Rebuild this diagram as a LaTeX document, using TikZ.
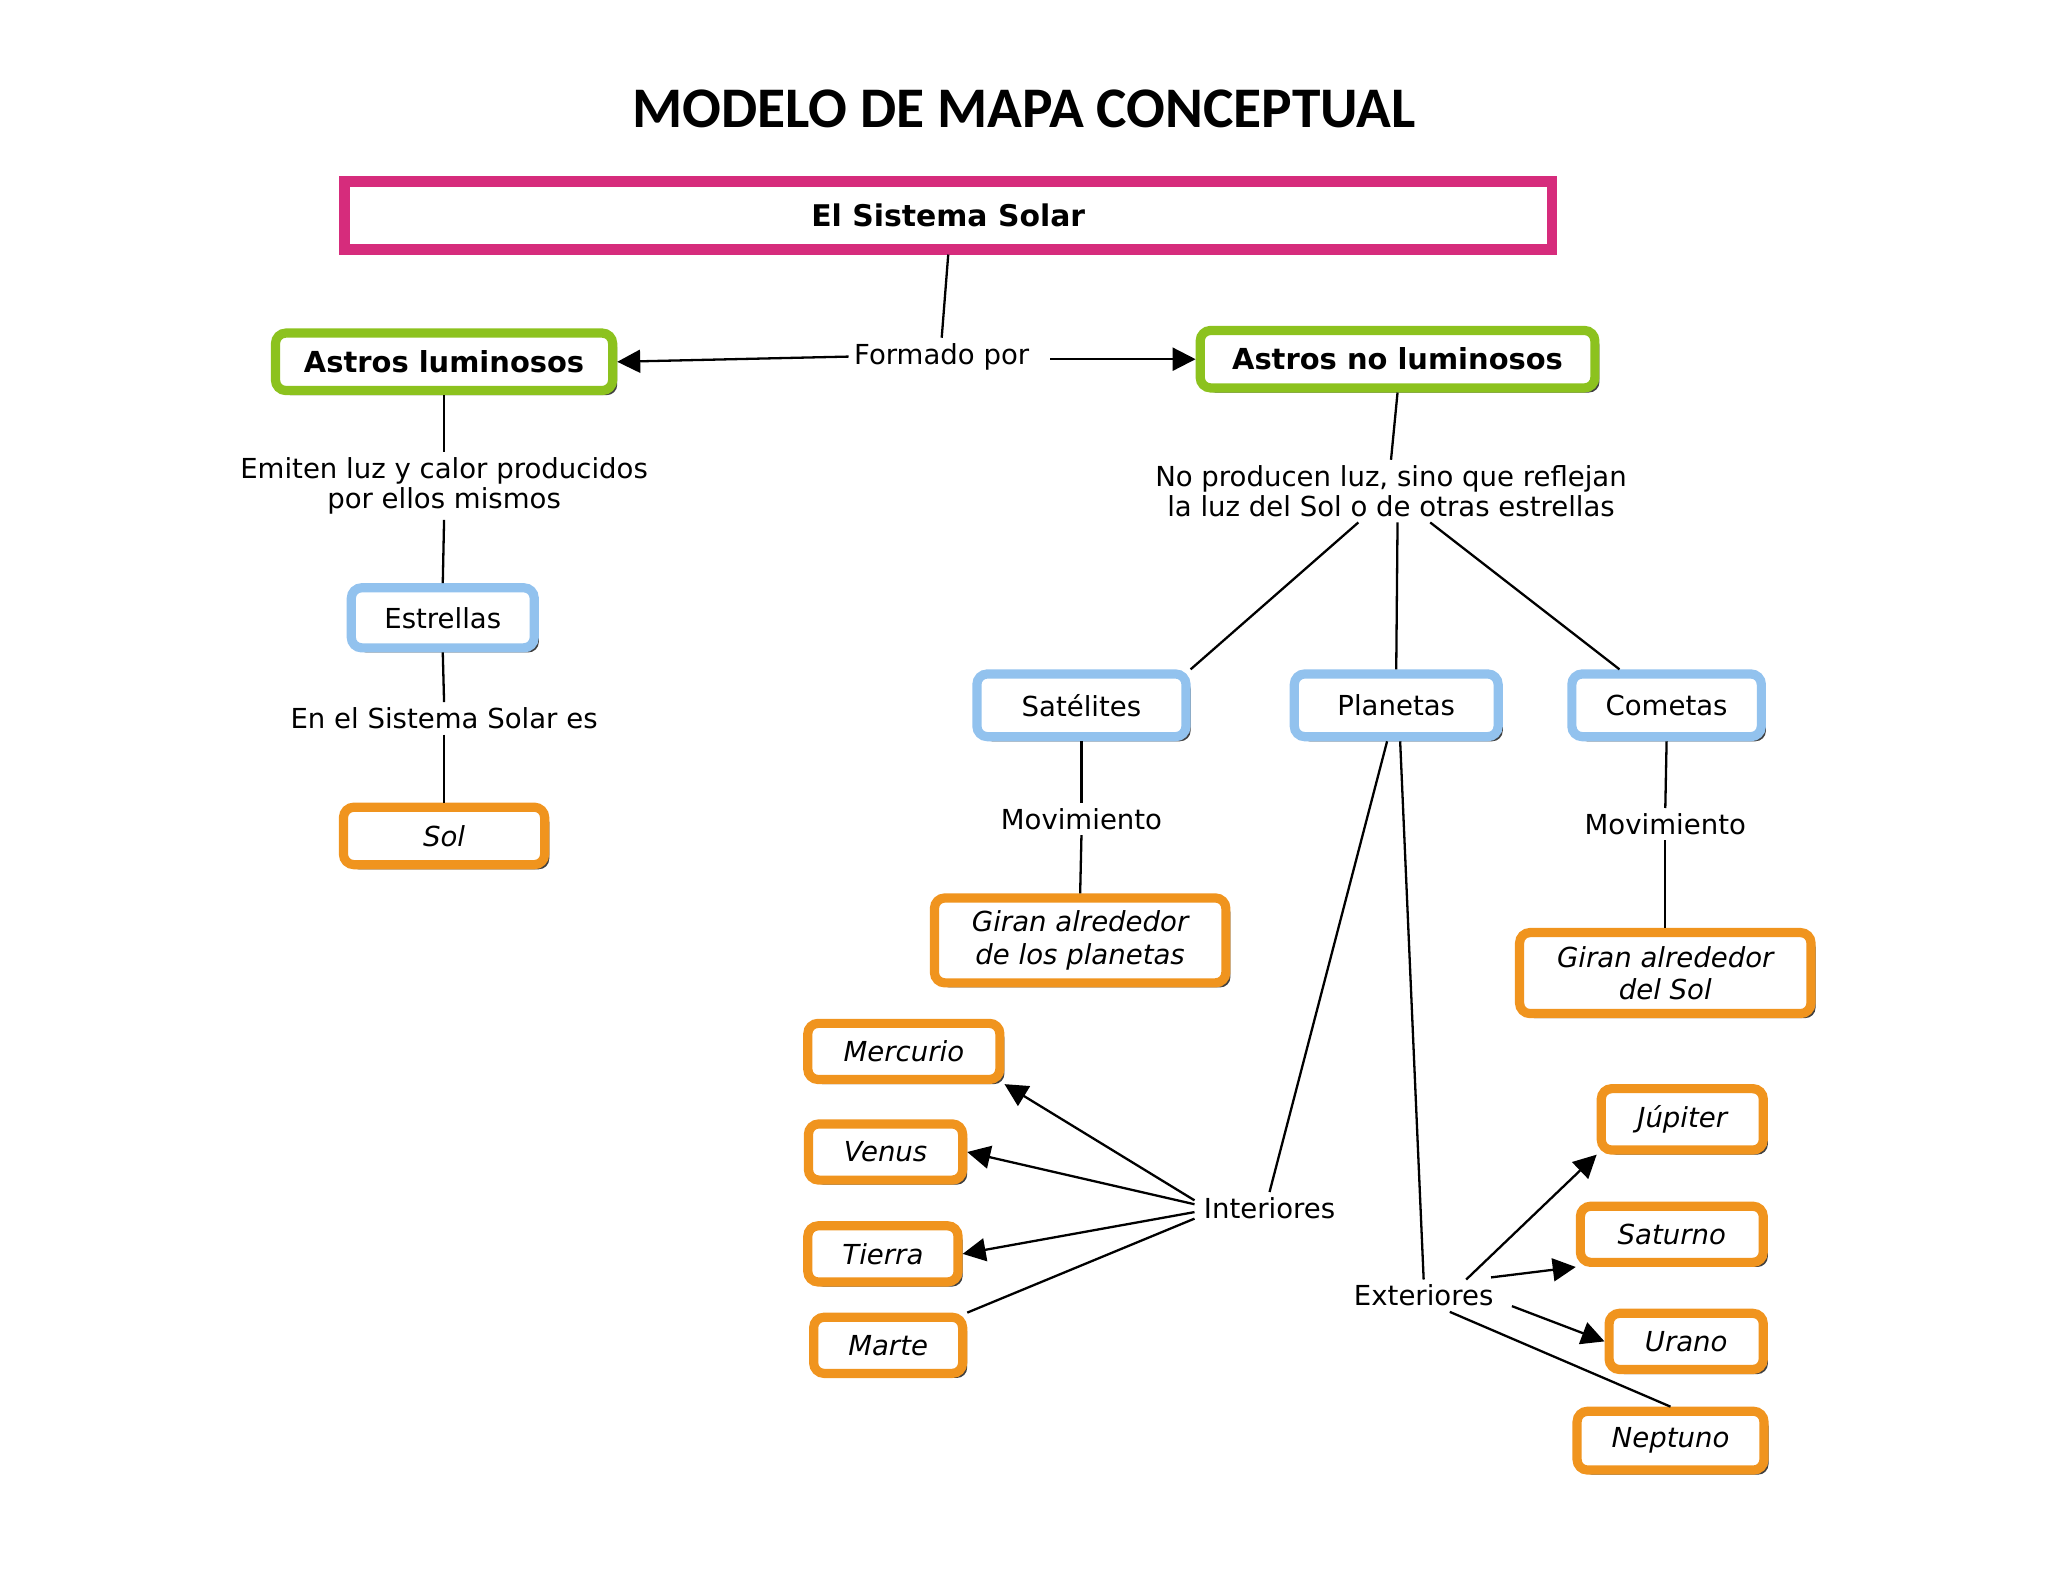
\documentclass[tikz,border=0pt]{standalone}
\usepackage{fontspec}
\setmainfont{DejaVu Sans}
\newfontfamily\titlefont{Carlito}
\usetikzlibrary{calc,shadows,arrows.meta}
\definecolor{magbox}{HTML}{D62C7C}
\definecolor{grnbox}{HTML}{8CC21E}
\definecolor{blubox}{HTML}{92C2EE}
\definecolor{orgbox}{HTML}{F0941E}
\tikzset{
  box/.style={draw, line width=2pt, rounded corners=0.08cm, fill=white, align=center,
    inner sep=1pt, font=\fontsize{6}{7}\selectfont,
    drop shadow={shadow xshift=0.035cm, shadow yshift=-0.035cm, fill=black!75, opacity=1}},
  gbox/.style={box, draw=grnbox, font=\fontsize{6.3}{7}\selectfont\bfseries},
  bbox/.style={box, draw=blubox},
  obox/.style={box, draw=orgbox, font=\fontsize{6}{7}\selectfont\itshape},
  lab/.style={align=center, inner sep=1pt, font=\fontsize{6}{6.6}\selectfont},
  ln/.style={draw, line width=0.5pt},
  ar/.style={ln, -{Triangle[length=5pt,width=5pt]}}
}
\begin{document}
\begin{tikzpicture}[x=0.01cm, y=-0.01cm]
\path[use as bounding box] (0,0) rectangle (1568,1211);
\node[font=\titlefont\fontsize{12.5}{14}\selectfont\bfseries] (title) at (784,83) {MODELO DE MAPA CONCEPTUAL};
\node[draw=magbox, line width=2.2pt, minimum width=9.24cm, minimum height=0.52cm,
  font=\fontsize{6.5}{7}\selectfont\bfseries] (ss) at (726,165) {El Sistema Solar};
\node[gbox, minimum width=2.58cm, minimum height=0.44cm] (al) at (340,277) {Astros luminosos};
\node[gbox, minimum width=3.02cm, minimum height=0.44cm] (anl) at (1070,275) {Astros no luminosos};
\node[lab] (form) at (721,273) {Formado por};
\node[lab] (emi) at (340,372) {Emiten luz y calor producidos\\por ellos mismos};
\node[bbox, minimum width=1.40cm, minimum height=0.46cm] (est) at (339,473) {Estrellas};
\node[lab] (enel) at (340,550) {En el Sistema Solar es};
\node[obox, minimum width=1.54cm, minimum height=0.44cm] (sol) at (340,640) {Sol};
\node[lab] (nop) at (1065,376) {No producen luz, sino que reflejan\\la luz del Sol o de otras estrellas};
\node[bbox, minimum width=1.60cm, minimum height=0.48cm] (sat) at (828,540) {Satélites};
\node[bbox, minimum width=1.56cm, minimum height=0.48cm] (pla) at (1069,540) {Planetas};
\node[bbox, minimum width=1.45cm, minimum height=0.48cm] (com) at (1276,540) {Cometas};
\node[lab] (mov1) at (828,627) {Movimiento};
\node[lab] (mov2) at (1275,631) {Movimiento};
\node[obox, minimum width=2.23cm, minimum height=0.65cm] (gp) at (827,720) {Giran alrededor\\de los planetas};
\node[obox, minimum width=2.23cm, minimum height=0.62cm] (gs) at (1275,745) {Giran alrededor\\del Sol};
\node[lab] (int) at (972,925) {Interiores};
\node[lab] (ext) at (1090,992) {Exteriores};
\node[obox, minimum width=1.47cm, minimum height=0.43cm] (mer) at (692,805) {Mercurio};
\node[obox, minimum width=1.18cm, minimum height=0.43cm] (ven) at (678,882) {Venus};
\node[obox, minimum width=1.15cm, minimum height=0.43cm] (tie) at (676,960) {Tierra};
\node[obox, minimum width=1.14cm, minimum height=0.43cm] (mar) at (680,1030) {Marte};
\node[obox, minimum width=1.24cm, minimum height=0.47cm] (jup) at (1288,857) {Júpiter};
\node[obox, minimum width=1.40cm, minimum height=0.43cm] (sta) at (1280,945) {Saturno};
\node[obox, minimum width=1.18cm, minimum height=0.43cm] (ura) at (1291,1027) {Urano};
\node[obox, minimum width=1.43cm, minimum height=0.45cm] (nep) at (1279,1103) {Neptuno};
% connectors
\draw[ln] (ss.south) -- (form.north);
\draw[ar] (form.west) -- (al.east);
\draw[ar] (form.east) ++(12,2) coordinate (fe) (fe) -- (anl.west);
\draw[ln] (al.south) -- (emi.north);
\draw[ln] (emi.south) -- (est.north);
\draw[ln] (est.south) -- (enel.north);
\draw[ln] (enel.south) -- (sol.north);
\draw[ln] (anl.south) -- (nop.north);
\draw[ln] ($(nop.south)+(-25,0)$) -- (sat.north east);
\draw[ln] (nop.south) ++(5,0) coordinate (nc) (nc) -- (pla.north);
\draw[ln] ($(nop.south)+(30,0)$) -- ($(com.north west)+(40,0)$);
\draw[ln] (sat.south) -- (mov1.north);
\draw[ln] (mov1.south) -- (gp.north);
\draw[ln] (com.south) -- (mov2.north);
\draw[ln] (mov2.south) -- (gs.north);
\draw[ln] ($(pla.south)+(-7,0)$) -- (int.north);
\draw[ln] ($(pla.south)+(3,0)$) -- (ext.north);
\draw[ar] ($(int.west)+(-3,-6)$) -- (mer.south east);
\draw[ar] ($(int.west)+(-3,-3)$) -- (ven.east);
\draw[ar] ($(int.west)+(-3,3)$) -- (tie.east);
\draw[ln] ($(int.west)+(-3,8)$) -- (mar.north east);
\draw[ar] ($(ext.north east)+(-25,0)$) -- (jup.south west);
\draw[ar] ($(ext.east)+(-6,-14)$) -- (sta.south west);
\draw[ar] ($(ext.east)+(10,8)$) -- (ura.west);
\draw[ln] ($(ext.south)+(20,0)$) -- (nep.north);
\end{tikzpicture}
\end{document}
